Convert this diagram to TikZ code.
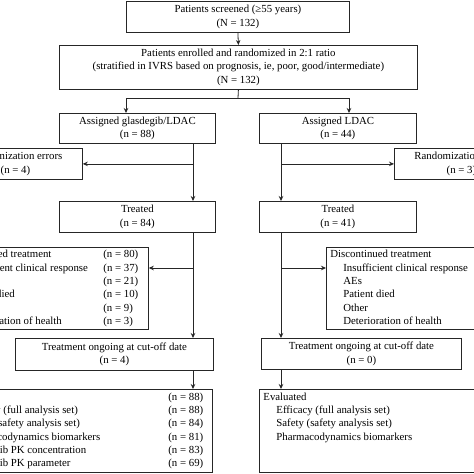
\documentclass[tikz,border=0pt]{standalone}
\usepackage{fontspec}
\setmainfont{Liberation Serif}
\usetikzlibrary{arrows.meta}
\newcommand{\fsz}{\fontsize{10.8}{13.3}\selectfont}
\begin{document}
\begin{tikzpicture}[x=1pt,y=-1pt,
  box/.style={draw=black!85, line width=0.8pt, inner sep=0pt, align=center, font=\fsz, anchor=north west},
  listbox/.style={box, inner xsep=4pt, inner ysep=0pt},
  arr/.style={draw=black!85, line width=0.8pt, -{Stealth[length=5pt,width=4.5pt]}},
  ln/.style={draw=black!85, line width=0.8pt}]
\path[use as bounding box] (0,0) rectangle (474,474);
\fill[white] (0,0) rectangle (474,474);
\clip (0,0) rectangle (474,474);

% top and enrolment
\node[box, minimum width=223pt, minimum height=31pt] (top) at (126,1)
  {Patients screened (≥55 years)\\(N = 132)};
\node[box, minimum width=358pt, minimum height=44pt] (enr) at (59,45)
  {Patients enrolled and randomized in 2:1 ratio\\(stratified in IVRS based on prognosis, ie, poor, good/intermediate)\\(N = 132)};

% left column
\node[box, minimum width=156pt, minimum height=30pt] (assL) at (59,113)
  {Assigned glasdegib/LDAC\\(n = 88)};
\node[box, minimum width=134pt, minimum height=31pt] (randL) at (-52,148)
  {Randomization errors\\(n = 4)};
\node[box, minimum width=156pt, minimum height=31pt] (trL) at (59,201)
  {Treated\\(n = 84)};
\node[listbox, minimum width=202pt, minimum height=82pt] (discL) at (-54,247)
  {\begin{tabular}{@{}p{153pt}@{}p{41pt}@{}}
   Discontinued treatment & (n = 80)\\
   \hspace{13pt}Insufficient clinical response & (n = 37)\\
   \hspace{13pt}AEs & (n = 21)\\
   \hspace{13pt}Patient died & (n = 10)\\
   \hspace{13pt}Other & (n = 9)\\
   \hspace{13pt}Deterioration of health & (n = 3)
   \end{tabular}};
\node[box, minimum width=198pt, minimum height=32pt] (onL) at (15,338)
  {Treatment ongoing at cut-off date\\(n = 4)};
\node[listbox, minimum width=265pt, minimum height=83pt] (evL) at (-53,389)
  {\begin{tabular}{@{}p{217pt}@{}p{40pt}@{}}
   Evaluated & (n = 88)\\
   \hspace{13pt}Efficacy (full analysis set) & (n = 88)\\
   \hspace{13pt}Safety (safety analysis set) & (n = 84)\\
   \hspace{13pt}Pharmacodynamics biomarkers & (n = 81)\\
   \hspace{13pt}Glasdegib PK concentration & (n = 83)\\
   \hspace{13pt}Glasdegib PK parameter & (n = 69)
   \end{tabular}};

% right column
\node[box, minimum width=157pt, minimum height=30pt] (assR) at (259,113)
  {Assigned LDAC\\(n = 44)};
\node[box, minimum width=134pt, minimum height=31pt] (randR) at (394,148)
  {Randomization errors\\(n = 3)};
\node[box, minimum width=157pt, minimum height=31pt] (trR) at (259,201)
  {Treated\\(n = 41)};
\node[listbox, minimum width=202pt, minimum height=82pt] (discR) at (326,247)
  {\begin{tabular}{@{}p{194pt}@{}}
   Discontinued treatment\\
   \hspace{13pt}Insufficient clinical response\\
   \hspace{13pt}AEs\\
   \hspace{13pt}Patient died\\
   \hspace{13pt}Other\\
   \hspace{13pt}Deterioration of health
   \end{tabular}};
\node[box, minimum width=200pt, minimum height=31pt] (onR) at (261,338)
  {Treatment ongoing at cut-off date\\(n = 0)};
\node[listbox, minimum width=265pt, minimum height=83pt] (evR) at (259,389)
  {\begin{tabular}{@{}p{257pt}@{}}
   Evaluated\\
   \hspace{13pt}Efficacy (full analysis set)\\
   \hspace{13pt}Safety (safety analysis set)\\
   \hspace{13pt}Pharmacodynamics biomarkers\\
   \mbox{}\\
   \mbox{}
   \end{tabular}};

% connectors
\draw[arr] (top.south) -- (enr.north);
\coordinate (sp) at (238,98);
\coordinate (spL) at (126,98);
\coordinate (spR) at (349,98);
\draw[ln] (enr.south) -- (sp);
\draw[ln] (spL) -- (spR);
\draw[arr] (spL) -- (spL |- assL.north);
\draw[arr] (spR) -- (spR |- assR.north);

\coordinate (cL) at (193,0);
\coordinate (cR) at (281,0);
\coordinate (dL) at (193,268);
\coordinate (dR) at (281,268);

\draw[arr] (cL |- assL.south) -- (cL |- trL.north);
\draw[arr] (cL |- randL.east) -- (randL.east);
\draw[arr] (cL |- trL.south) -- (cL |- onL.north);
\draw[arr] (dL) -- (dL -| discL.east);
\draw[arr] (cL |- onL.south) -- (cL |- evL.north);

\draw[arr] (cR |- assR.south) -- (cR |- trR.north);
\draw[arr] (cR |- randR.west) -- (randR.west);
\draw[arr] (cR |- trR.south) -- (cR |- onR.north);
\draw[arr] (dR) -- (dR -| discR.west);
\draw[arr] (cR |- onR.south) -- (cR |- evR.north);
\end{tikzpicture}
\end{document}
